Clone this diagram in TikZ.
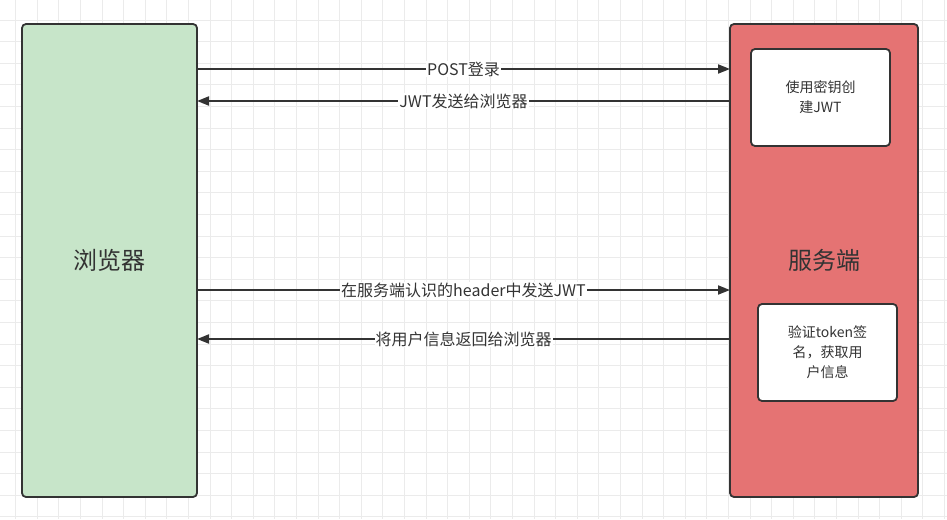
\documentclass[tikz,border=0pt]{standalone}
\usepackage{fontspec}
\setmainfont{Noto Sans CJK SC}
\usetikzlibrary{arrows.meta}
\definecolor{gfill}{HTML}{C7E5C9}
\definecolor{rfill}{HTML}{E57373}
\definecolor{edge}{HTML}{333333}
\definecolor{gridc}{HTML}{EBEBEB}
\begin{document}
\begin{tikzpicture}[x=1pt,y=-1pt,
 box/.style={draw=edge,line width=1.8pt,rounded corners=4pt,inner sep=0pt},
 lbl/.style={fill=white,inner sep=1pt,font=\fontsize{16}{18}\selectfont,text=edge},
 arr/.style={draw=edge,line width=1.8pt,-{Triangle[length=12pt,width=9pt]}}]
\useasboundingbox (0,0) rectangle (947,519);
\fill[white] (0,0) rectangle (947,519);
\foreach \i in {0,...,44} \draw[gridc,line width=0.8pt] (15.5+21.6*\i,0) -- (15.5+21.6*\i,519);
\foreach \i in {0,...,24} \draw[gridc,line width=0.8pt] (0,20+21.6*\i) -- (947,20+21.6*\i);
\node[box,fill=gfill,minimum width=175pt,minimum height=473pt,text=edge,font=\fontsize{24}{28}\selectfont] (b) at (109.5,260.5) {浏览器};
\node[box,fill=rfill,minimum width=188pt,minimum height=473pt,text=edge,font=\fontsize{24}{28}\selectfont] (s) at (824,260.5) {服务端};
\node[box,fill=white,minimum width=139pt,minimum height=97pt,text=edge,align=center,font=\fontsize{14}{20}\selectfont] (k) at (820.5,97.5) {使用密钥创\\建JWT};
\node[box,fill=white,minimum width=139pt,minimum height=97pt,text=edge,align=center,font=\fontsize{14}{20}\selectfont] (v) at (827.5,352.5) {验证token签\\名，获取用\\户信息};
\coordinate (b1) at (197,69); \coordinate (s1) at (730,69);
\coordinate (b2) at (197,101); \coordinate (s2) at (730,101);
\coordinate (b3) at (197,290); \coordinate (s3) at (730,290);
\coordinate (b4) at (197,339); \coordinate (s4) at (730,339);
\draw[arr] (b1) -- node[lbl]{POST登录} (s1);
\draw[arr] (s2) -- node[lbl]{JWT发送给浏览器} (b2);
\draw[arr] (b3) -- node[lbl]{在服务端认识的header中发送JWT} (s3);
\draw[arr] (s4) -- node[lbl]{将用户信息返回给浏览器} (b4);
\end{tikzpicture}
\end{document}
